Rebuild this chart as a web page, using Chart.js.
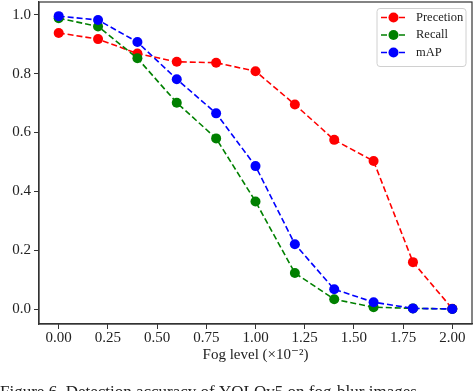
<!DOCTYPE html>
<html>
<head>
<meta charset="utf-8">
<script src="https://cdn.jsdelivr.net/npm/chart.js@4"></script>
<style>
  html, body { margin: 0; padding: 0; background: #fff; }
  #wrap { width: 474px; height: 391px; position: relative; }
</style>
</head>
<body>
<div id="wrap"><canvas id="fogChart" width="474" height="391"></canvas></div>
<script>
const fogLevels = [0, 0.2, 0.4, 0.6, 0.8, 1.0, 1.2, 1.4, 1.6, 1.8, 2.0];
const precisionValues = [0.938, 0.917, 0.868, 0.840, 0.837, 0.808, 0.695, 0.575, 0.503, 0.160, 0.002];
const recallValues = [0.988, 0.960, 0.852, 0.701, 0.580, 0.366, 0.123, 0.034, 0.007, 0.003, 0.001];
const mapValues = [0.995, 0.982, 0.907, 0.781, 0.665, 0.486, 0.221, 0.068, 0.024, 0.003, 0.001];
const xTicks = [0, 0.25, 0.5, 0.75, 1.0, 1.25, 1.5, 1.75, 2.0];
const xTickLabels = ["0.00", "0.25", "0.50", "0.75", "1.00", "1.25", "1.50", "1.75", "2.00"];
const yTicks = [0, 0.2, 0.4, 0.6, 0.8, 1.0];
const yTickLabels = ["0.0", "0.2", "0.4", "0.6", "0.8", "1.0"];
const seriesNames = ["Precetion", "Recall", "mAP"];
const captionText = "Figure 6. Detection accuracy of YOLOv5 on fog-blur images";

const serif = "'Liberation Serif', 'DejaVu Serif', serif";
const frameColor = "#333333";

function toPoints(values) {
  return values.map((v, i) => ({ x: fogLevels[i], y: v }));
}

function makeDataset(label, values, color, order) {
  return {
    label,
    data: toPoints(values),
    borderColor: color,
    backgroundColor: color,
    pointBackgroundColor: color,
    pointBorderColor: color,
    pointRadius: 5,
    pointBorderWidth: 0,
    borderWidth: 1.6,
    borderDash: [6, 3],
    tension: 0,
    fill: false,
    order
  };
}

const framePlugin = {
  id: "frameAndLegend",
  afterDraw(chart) {
    const { ctx, chartArea } = chart;
    ctx.save();

    // full box around the plot like matplotlib spines
    ctx.strokeStyle = frameColor;
    ctx.lineWidth = 1.2;
    ctx.setLineDash([]);
    ctx.strokeRect(chartArea.left, chartArea.top, chartArea.right - chartArea.left, chartArea.bottom - chartArea.top);

    // legend box in upper right
    const boxX = 377, boxY = 8.5, boxW = 89, boxH = 58;
    ctx.fillStyle = "rgba(255,255,255,0.85)";
    ctx.strokeStyle = "#d0d0d0";
    ctx.lineWidth = 1;
    ctx.beginPath();
    ctx.roundRect(boxX, boxY, boxW, boxH, 3);
    ctx.fill();
    ctx.stroke();

    const rows = [17.5, 35, 52.5];
    chart.data.datasets.forEach((ds, i) => {
      const y = rows[i];
      ctx.strokeStyle = ds.borderColor;
      ctx.lineWidth = 1.6;
      ctx.setLineDash([6, 3]);
      ctx.beginPath();
      ctx.moveTo(381, y);
      ctx.lineTo(406, y);
      ctx.stroke();
      ctx.setLineDash([]);
      ctx.fillStyle = ds.borderColor;
      ctx.beginPath();
      ctx.arc(393.5, y, 5, 0, Math.PI * 2);
      ctx.fill();

      ctx.fillStyle = "#222";
      ctx.font = "12.5px " + serif;
      ctx.textAlign = "left";
      ctx.textBaseline = "middle";
      ctx.fillText(ds.label, 416, y);
    });

    // figure caption, cut off at the bottom edge
    ctx.fillStyle = "#222";
    ctx.font = "17px " + serif;
    ctx.textAlign = "left";
    ctx.textBaseline = "alphabetic";
    ctx.fillText(captionText, 0, 397);

    ctx.restore();
  }
};

const ctx = document.getElementById("fogChart").getContext("2d");

const fogChart = new Chart(ctx, {
  type: "line",
  plugins: [framePlugin],
  data: {
    datasets: [
      makeDataset(seriesNames[0], precisionValues, "#ff0000", 3),
      makeDataset(seriesNames[1], recallValues, "#008000", 2),
      makeDataset(seriesNames[2], mapValues, "#0000ff", 1)
    ]
  },
  options: {
    responsive: false,
    animation: false,
    layout: {
      autoPadding: false,
      padding: { top: 2, right: 2, left: 0, bottom: 0 }
    },
    plugins: {
      legend: { display: false },
      tooltip: { enabled: false }
    },
    scales: {
      x: {
        type: "linear",
        min: -0.1,
        max: 2.1,
        afterBuildTicks(scale) {
          scale.ticks = xTicks.map(v => ({ value: v }));
        },
        afterFit(scale) {
          scale.height = 67;
          scale.paddingLeft = 0;
          scale.paddingRight = 0;
        },
        ticks: {
          autoSkip: false,
          maxRotation: 0,
          padding: 0,
          color: "#222",
          font: { family: serif, size: 15 },
          callback: function (value) {
            const idx = xTicks.indexOf(value);
            return idx >= 0 ? xTickLabels[idx] : "";
          }
        },
        grid: {
          drawOnChartArea: false,
          drawTicks: true,
          tickLength: 5,
          color: frameColor,
          lineWidth: 1
        },
        border: { display: true, color: frameColor, width: 1.2 },
        title: {
          display: true,
          text: "Fog level (×10⁻²)",
          color: "#222",
          font: { family: serif, size: 15 },
          padding: { top: 0, bottom: 27 }
        }
      },
      y: {
        type: "linear",
        min: -0.05,
        max: 1.043,
        afterBuildTicks(scale) {
          scale.ticks = yTicks.map(v => ({ value: v }));
        },
        afterFit(scale) {
          scale.width = 39;
          scale.paddingTop = 0;
          scale.paddingBottom = 0;
        },
        ticks: {
          autoSkip: false,
          padding: 3,
          color: "#222",
          font: { family: serif, size: 15 },
          callback: function (value) {
            const idx = yTicks.indexOf(value);
            return idx >= 0 ? yTickLabels[idx] : "";
          }
        },
        grid: {
          drawOnChartArea: false,
          drawTicks: true,
          tickLength: 5,
          color: frameColor,
          lineWidth: 1
        },
        border: { display: true, color: frameColor, width: 1.2 }
      }
    }
  }
});
</script>
</body>
</html>
